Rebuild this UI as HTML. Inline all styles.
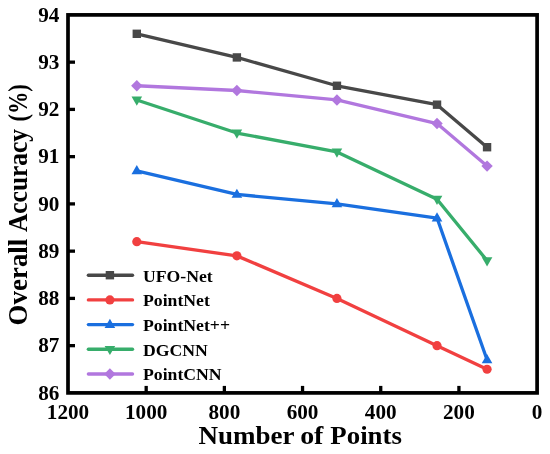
<!DOCTYPE html>
<html><head><meta charset="utf-8"><title>chart</title>
<style>html,body{margin:0;padding:0;background:#fff}svg{display:block}text{font-family:"Liberation Serif",serif;font-weight:bold;fill:#000}</style></head><body>
<svg width="550" height="454" viewBox="0 0 550 454">
<rect width="550" height="454" fill="#fff"/>
<polyline points="136.80,33.80 236.88,57.43 336.95,85.77 437.03,104.68 487.06,147.20" fill="none" stroke="#484848" stroke-width="3.3" stroke-linejoin="round" stroke-linecap="round"/>
<rect x="132.60" y="29.60" width="8.40" height="8.40" fill="#484848"/>
<rect x="232.68" y="53.23" width="8.40" height="8.40" fill="#484848"/>
<rect x="332.75" y="81.57" width="8.40" height="8.40" fill="#484848"/>
<rect x="432.83" y="100.48" width="8.40" height="8.40" fill="#484848"/>
<rect x="482.86" y="143.00" width="8.40" height="8.40" fill="#484848"/>
<polyline points="136.80,241.70 236.88,255.87 336.95,298.40 437.03,345.65 487.06,369.27" fill="none" stroke="#F14040" stroke-width="3.3" stroke-linejoin="round" stroke-linecap="round"/>
<circle cx="136.80" cy="241.70" r="4.6" fill="#F14040"/>
<circle cx="236.88" cy="255.87" r="4.6" fill="#F14040"/>
<circle cx="336.95" cy="298.40" r="4.6" fill="#F14040"/>
<circle cx="437.03" cy="345.65" r="4.6" fill="#F14040"/>
<circle cx="487.06" cy="369.27" r="4.6" fill="#F14040"/>
<polyline points="136.80,170.82 236.88,194.45 336.95,203.90 437.03,218.07 487.06,359.82" fill="none" stroke="#1A6FDF" stroke-width="3.3" stroke-linejoin="round" stroke-linecap="round"/>
<polygon points="136.80,165.02 142.10,174.22 131.50,174.22" fill="#1A6FDF"/>
<polygon points="236.88,188.65 242.18,197.85 231.58,197.85" fill="#1A6FDF"/>
<polygon points="336.95,198.10 342.25,207.30 331.65,207.30" fill="#1A6FDF"/>
<polygon points="437.03,212.27 442.33,221.47 431.73,221.47" fill="#1A6FDF"/>
<polygon points="487.06,354.02 492.36,363.22 481.76,363.22" fill="#1A6FDF"/>
<polyline points="136.80,99.95 236.88,133.02 336.95,151.93 437.03,199.18 487.06,260.60" fill="none" stroke="#37AD6B" stroke-width="3.3" stroke-linejoin="round" stroke-linecap="round"/>
<polygon points="136.80,105.75 142.10,96.55 131.50,96.55" fill="#37AD6B"/>
<polygon points="236.88,138.82 242.18,129.62 231.58,129.62" fill="#37AD6B"/>
<polygon points="336.95,157.73 342.25,148.53 331.65,148.53" fill="#37AD6B"/>
<polygon points="437.03,204.98 442.33,195.78 431.73,195.78" fill="#37AD6B"/>
<polygon points="487.06,266.40 492.36,257.20 481.76,257.20" fill="#37AD6B"/>
<polyline points="136.80,85.77 236.88,90.50 336.95,99.95 437.03,123.57 487.06,166.10" fill="none" stroke="#B177DE" stroke-width="3.3" stroke-linejoin="round" stroke-linecap="round"/>
<polygon points="136.80,80.07 142.50,85.77 136.80,91.47 131.10,85.77" fill="#B177DE"/>
<polygon points="236.88,84.80 242.58,90.50 236.88,96.20 231.18,90.50" fill="#B177DE"/>
<polygon points="336.95,94.25 342.65,99.95 336.95,105.65 331.25,99.95" fill="#B177DE"/>
<polygon points="437.03,117.87 442.73,123.57 437.03,129.27 431.33,123.57" fill="#B177DE"/>
<polygon points="487.06,160.40 492.76,166.10 487.06,171.80 481.36,166.10" fill="#B177DE"/>
<rect x="68.0" y="14.9" width="469.10" height="378.00" fill="none" stroke="#000" stroke-width="3.7"/>
<line x1="68.0" y1="345.65" x2="75.00" y2="345.65" stroke="#000" stroke-width="3.3"/>
<line x1="68.0" y1="298.40" x2="75.00" y2="298.40" stroke="#000" stroke-width="3.3"/>
<line x1="68.0" y1="251.15" x2="75.00" y2="251.15" stroke="#000" stroke-width="3.3"/>
<line x1="68.0" y1="203.90" x2="75.00" y2="203.90" stroke="#000" stroke-width="3.3"/>
<line x1="68.0" y1="156.65" x2="75.00" y2="156.65" stroke="#000" stroke-width="3.3"/>
<line x1="68.0" y1="109.40" x2="75.00" y2="109.40" stroke="#000" stroke-width="3.3"/>
<line x1="68.0" y1="62.15" x2="75.00" y2="62.15" stroke="#000" stroke-width="3.3"/>
<line x1="458.92" y1="392.9" x2="458.92" y2="385.90" stroke="#000" stroke-width="3.3"/>
<line x1="380.73" y1="392.9" x2="380.73" y2="385.90" stroke="#000" stroke-width="3.3"/>
<line x1="302.55" y1="392.9" x2="302.55" y2="385.90" stroke="#000" stroke-width="3.3"/>
<line x1="224.37" y1="392.9" x2="224.37" y2="385.90" stroke="#000" stroke-width="3.3"/>
<line x1="146.18" y1="392.9" x2="146.18" y2="385.90" stroke="#000" stroke-width="3.3"/>
<text x="59.4" y="399.70" font-size="21.2" text-anchor="end">86</text>
<text x="59.4" y="352.45" font-size="21.2" text-anchor="end">87</text>
<text x="59.4" y="305.20" font-size="21.2" text-anchor="end">88</text>
<text x="59.4" y="257.95" font-size="21.2" text-anchor="end">89</text>
<text x="59.4" y="210.70" font-size="21.2" text-anchor="end">90</text>
<text x="59.4" y="163.45" font-size="21.2" text-anchor="end">91</text>
<text x="59.4" y="116.20" font-size="21.2" text-anchor="end">92</text>
<text x="59.4" y="68.95" font-size="21.2" text-anchor="end">93</text>
<text x="59.4" y="21.70" font-size="21.2" text-anchor="end">94</text>
<text x="537.10" y="418.8" font-size="21.2" text-anchor="middle">0</text>
<text x="458.92" y="418.8" font-size="21.2" text-anchor="middle">200</text>
<text x="380.73" y="418.8" font-size="21.2" text-anchor="middle">400</text>
<text x="302.55" y="418.8" font-size="21.2" text-anchor="middle">600</text>
<text x="224.37" y="418.8" font-size="21.2" text-anchor="middle">800</text>
<text x="146.18" y="418.8" font-size="21.2" text-anchor="middle">1000</text>
<text x="68.00" y="418.8" font-size="21.2" text-anchor="middle">1200</text>
<text transform="translate(198.45,444.1) scale(1.108,1)" font-size="24.4">Number</text>
<text transform="translate(300.16,444.1) scale(1.144,1)" font-size="24.4">of</text>
<text transform="translate(330.35,444.1) scale(1.1,1)" font-size="24.4">Points</text>
<text transform="translate(27.0,325.43) rotate(-90) scale(0.9867,1)" font-size="27.3">Overall</text>
<text transform="translate(27.0,232.03) rotate(-90) scale(0.9315,1)" font-size="27.3">Accuracy</text>
<text transform="translate(27.0,121.53) rotate(-90) scale(0.821,1)" font-size="27.3">(%)</text>
<line x1="88.4" y1="275.2" x2="132.5" y2="275.2" stroke="#484848" stroke-width="3.4" stroke-linecap="round"/>
<rect x="105.70" y="271.00" width="8.40" height="8.40" fill="#484848"/>
<text x="143" y="281.50" font-size="17.7">UFO-Net</text>
<line x1="88.4" y1="299.9" x2="132.5" y2="299.9" stroke="#F14040" stroke-width="3.4" stroke-linecap="round"/>
<circle cx="109.90" cy="299.90" r="4.6" fill="#F14040"/>
<text x="143" y="306.20" font-size="17.7">PointNet</text>
<line x1="88.4" y1="324.6" x2="132.5" y2="324.6" stroke="#1A6FDF" stroke-width="3.4" stroke-linecap="round"/>
<polygon points="109.90,318.80 115.20,328.00 104.60,328.00" fill="#1A6FDF"/>
<text x="143" y="330.90" font-size="17.7">PointNet++</text>
<line x1="88.4" y1="349.3" x2="132.5" y2="349.3" stroke="#37AD6B" stroke-width="3.4" stroke-linecap="round"/>
<polygon points="109.90,355.10 115.20,345.90 104.60,345.90" fill="#37AD6B"/>
<text x="143" y="355.60" font-size="17.7">DGCNN</text>
<line x1="88.4" y1="374.0" x2="132.5" y2="374.0" stroke="#B177DE" stroke-width="3.4" stroke-linecap="round"/>
<polygon points="109.90,368.30 115.60,374.00 109.90,379.70 104.20,374.00" fill="#B177DE"/>
<text x="143" y="380.30" font-size="17.7">PointCNN</text>
</svg></body></html>
